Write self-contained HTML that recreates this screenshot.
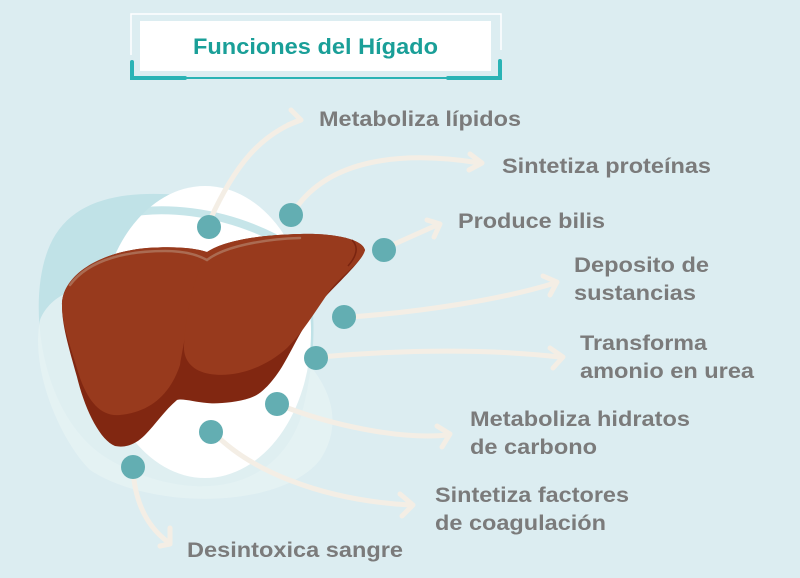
<!DOCTYPE html>
<html><head><meta charset="utf-8"><style>
html,body{margin:0;padding:0;background:#dcedf1;}
svg{display:block}
text{font-family:"Liberation Sans",Arial,sans-serif;font-weight:bold;}
.t{fill:#7b7b7b;font-size:21px}
.a{fill:none;stroke:#f4eee5;stroke-width:5;stroke-linecap:round;stroke-linejoin:round}
.d{fill:#63aeb2}
</style></head><body>
<svg width="800" height="578" viewBox="0 0 800 578" xmlns="http://www.w3.org/2000/svg">
<rect width="800" height="578" fill="#dcedf1"/>
<!-- title -->
<path d="M131,55 V14 H501 V50" fill="none" stroke="#ffffff" stroke-width="1.5"/>
<rect x="140" y="21" width="351" height="50" fill="#ffffff"/>
<path d="M132,62 V78 H500 V61" fill="none" stroke="#2ab3b5" stroke-width="2"/>
<path d="M132,62 V78 H185 M448,78 H500 V61" fill="none" stroke="#2ab3b5" stroke-width="4" stroke-linecap="round"/>
<text x="193" y="54" font-size="22" fill="#1a9f98" textLength="245" lengthAdjust="spacingAndGlyphs">Funciones del Hígado</text>
<!-- blobs -->
<path d="M50,245 C70,200 120,190 180,195 C230,200 265,215 285,235 C320,270 320,350 300,420 C270,500 180,500 110,460 C40,420 25,300 50,245 Z" fill="#c0e2e7"/>
<path d="M40,320 C60,270 150,280 200,300 C300,330 360,400 320,460 C280,510 150,510 90,470 C60,440 30,370 40,320 Z" fill="#e6f2f4" opacity="0.8"/>
<ellipse cx="205" cy="332" rx="106" ry="146" fill="#ffffff"/>
<path d="M120,215 C160,205 220,210 275,238" fill="none" stroke="#c0e2e7" stroke-width="8" opacity="0.9"/>
<!-- liver -->
<path d="M62,305 C62,275 100,252 147,248 C175,246 195,248 207,252 C225,240 260,235 300,234 C330,233 362,238 365,250 C362,262 335,285 320,303 C300,330 290,355 280,370 C270,385 260,395 250,398 C235,403 215,404 207,403 C195,402 182,398 177,400 C165,410 155,425 145,435 C135,445 125,448 115,446 C100,440 85,410 77,377 C68,345 62,325 62,305 Z" fill="#812711"/>
<path d="M62,305 C62,275 100,252 147,248 C175,246 195,248 207,252 C198,270 188,320 180,365 C170,395 150,412 120,415 C100,417 88,400 80,378 C70,345 62,325 62,305 Z" fill="#983a1d"/>
<path d="M207,252 C225,240 260,235 300,234 C330,233 362,238 365,250 C362,262 345,272 330,290 C310,320 300,335 287,348 C265,368 235,378 210,374 C192,371 183,360 184,345 C186,310 195,275 207,252 Z" fill="#983a1d"/>
<path d="M70,285 C90,258 130,251 165,251 C185,251 198,255 207,260 C225,246 265,239 300,238" fill="none" stroke="#b07860" stroke-width="2.5" stroke-linecap="round" opacity="0.8"/>
<path d="M352,240 C360,248 355,258 348,266" fill="none" stroke="#7a2410" stroke-width="1.5"/>
<!-- arrows -->
<path class="a" d="M210,220 C235,165 260,135 300,120"/><path class="a" d="M291,110 L301,120 L288,125"/>
<path class="a" d="M296,208 C330,160 400,150 480,163"/><path class="a" d="M470,154 L482,163 L469,170"/>
<path class="a" d="M390,246 L437,225"/><path class="a" d="M427,220 L440,224 L434,237"/>
<path class="a" d="M350,317 C420,312 500,300 555,283"/><path class="a" d="M543,276 L557,282 L550,295"/>
<path class="a" d="M320,357 C400,350 480,348 560,357"/><path class="a" d="M550,348 L563,357 L553,368"/>
<path class="a" d="M280,405 C330,425 400,440 448,435"/><path class="a" d="M437,426 L450,434 L442,447"/>
<path class="a" d="M214,433 C250,470 320,500 410,505"/><path class="a" d="M400,494 L413,505 L402,516"/>
<path class="a" d="M133,470 C135,500 145,525 168,542"/><path class="a" d="M170,528 L170,544 L160,546"/>
<!-- dots -->
<circle class="d" cx="209" cy="227" r="12"/>
<circle class="d" cx="291" cy="215" r="12"/>
<circle class="d" cx="384" cy="250" r="12"/>
<circle class="d" cx="344" cy="317" r="12"/>
<circle class="d" cx="316" cy="358" r="12"/>
<circle class="d" cx="277" cy="404" r="12"/>
<circle class="d" cx="211" cy="432" r="12"/>
<circle class="d" cx="133" cy="467" r="12"/>
<!-- labels -->
<text class="t" x="319" y="126" textLength="202" lengthAdjust="spacingAndGlyphs">Metaboliza lípidos</text>
<text class="t" x="502" y="173" textLength="209" lengthAdjust="spacingAndGlyphs">Sintetiza proteínas</text>
<text class="t" x="458" y="228" textLength="147" lengthAdjust="spacingAndGlyphs">Produce bilis</text>
<text class="t" x="574" y="272" textLength="135" lengthAdjust="spacingAndGlyphs">Deposito de</text>
<text class="t" x="574" y="300" textLength="122" lengthAdjust="spacingAndGlyphs">sustancias</text>
<text class="t" x="580" y="350" textLength="127" lengthAdjust="spacingAndGlyphs">Transforma</text>
<text class="t" x="580" y="378" textLength="174" lengthAdjust="spacingAndGlyphs">amonio en urea</text>
<text class="t" x="470" y="426" textLength="220" lengthAdjust="spacingAndGlyphs">Metaboliza hidratos</text>
<text class="t" x="470" y="454" textLength="127" lengthAdjust="spacingAndGlyphs">de carbono</text>
<text class="t" x="435" y="502" textLength="194" lengthAdjust="spacingAndGlyphs">Sintetiza factores</text>
<text class="t" x="435" y="530" textLength="171" lengthAdjust="spacingAndGlyphs">de coagulación</text>
<text class="t" x="187" y="557" textLength="216" lengthAdjust="spacingAndGlyphs">Desintoxica sangre</text>
</svg>
</body></html>
